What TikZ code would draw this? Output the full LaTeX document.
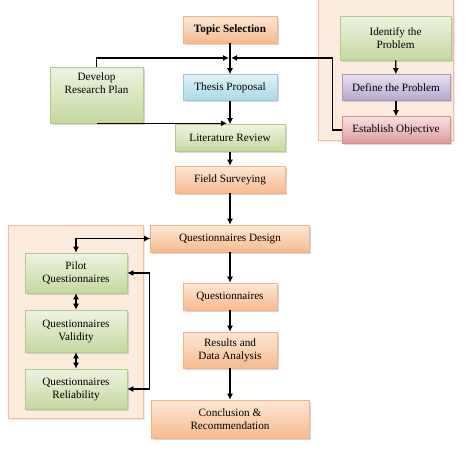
\documentclass[tikz,border=0pt]{standalone}
\usepackage{fontspec}
\setmainfont{Liberation Serif}
\usetikzlibrary{shadows, arrows.meta}

\definecolor{peachtop}{HTML}{FDE8D8}
\definecolor{peachbot}{HTML}{F7BA8C}
\definecolor{peachline}{HTML}{F4B183}
\definecolor{sagetop}{HTML}{EEF3E2}
\definecolor{sagebot}{HTML}{C5D8A0}
\definecolor{sageline}{HTML}{B5CB8C}
\definecolor{skytop}{HTML}{E2F2F7}
\definecolor{skybot}{HTML}{A9D8E6}
\definecolor{skyline}{HTML}{93CDDD}
\definecolor{lilactop}{HTML}{E8E2F0}
\definecolor{lilacbot}{HTML}{B7A6CC}
\definecolor{lilacline}{HTML}{A896C0}
\definecolor{rosetop}{HTML}{F6E0E0}
\definecolor{rosebot}{HTML}{DE9C9A}
\definecolor{roseline}{HTML}{D58E8C}
\definecolor{panelfill}{HTML}{FDEBDD}
\definecolor{panelline}{HTML}{F6BE98}

\begin{document}
\begin{tikzpicture}[x=1pt, y=-1pt, >={Latex[length=6pt, width=6pt]}, line width=1.1pt,
  font=\fontsize{11.2}{13}\selectfont,
  box/.style={draw=#1line, line width=0.6pt, top color=#1top, bottom color=#1bot,
    align=center, inner sep=2pt, minimum height=27pt,
    drop shadow={shadow xshift=1.8pt, shadow yshift=-1.8pt, fill=black!30}},
  panel/.style={draw=panelline, line width=0.8pt, fill=panelfill,
    drop shadow={shadow xshift=2pt, shadow yshift=-2pt, fill=black!15}}]
  \useasboundingbox (0,0) rectangle (474,461);
  % panels
  \draw[panel] (318,-10) rectangle (453,140);
  \draw[panel] (8,225) rectangle (143,418);
  % main column
  \node[box=peach, minimum width=94pt] (topic) at (230,29.5) {\bfseries Topic Selection};
  \node[box=sky, minimum width=94pt, minimum height=26pt] (thesis) at (230,87.5) {Thesis Proposal};
  \node[box=sage, minimum width=110pt] (litrev) at (230,138) {Literature Review};
  \node[box=peach, minimum width=110pt] (field) at (230,179.5) {Field Surveying};
  \node[box=peach, minimum width=159pt] (qdesign) at (230,238.5) {Questionnaires Design};
  \node[box=peach, minimum width=94pt] (quest) at (230,296.5) {Questionnaires};
  \node[box=peach, minimum width=94pt, minimum height=36pt] (results) at (230,350) {Results and\\Data Analysis};
  \node[box=peach, minimum width=158pt, minimum height=38pt] (concl) at (230,419) {Conclusion \&\\Recommendation};
  % research plan
  \node[box=sage, minimum width=93pt, minimum height=56pt] (plan) at (96.5,95) {Develop\\Research Plan\\[10pt]\mbox{}};
  % problem panel
  \node[box=sage, minimum width=111pt, minimum height=44pt] (identify) at (395.5,38) {Identify the\\Problem};
  \node[box=lilac, minimum width=108pt, minimum height=26pt] (define) at (396,87.5) {Define the Problem};
  \node[box=rose, minimum width=108pt] (establish) at (396,130) {Establish Objective};
  % questionnaire panel
  \node[box=sage, minimum width=102pt, minimum height=40pt] (pilot) at (76,273) {Pilot\\Questionnaires};
  \node[box=sage, minimum width=102pt, minimum height=42pt] (validity) at (76,331) {Questionnaires\\Validity};
  \node[box=sage, minimum width=102pt, minimum height=40pt] (reliab) at (76,389) {Questionnaires\\Reliability};
  % connectors
  \coordinate (join) at (230,58);
  \draw[->] (topic) -- (thesis);
  \draw[->] (plan.north) |- ([xshift=-1pt]join);
  \draw[->] (establish.west) -- ++(-9,0) |- ([xshift=1pt]join);
  \draw[->] (thesis) -- (litrev);
  \draw[->, shorten >=3pt] (plan.south) -- (plan.south -| litrev.north);
  \draw[->] (identify) -- (define);
  \draw[->] (define) -- (establish);
  \draw[->] (litrev) -- (field);
  \draw[->] (field) -- (qdesign);
  \draw[->] (qdesign) -- (quest);
  \draw[->] (quest) -- (results);
  \draw[->] (results) -- (concl);
  \draw[<->] (pilot.north) |- (qdesign.west);
  \draw[<->] (pilot) -- (validity);
  \draw[<->] (validity) -- (reliab);
  \draw[<->] (pilot.east) -- ++(22,0) |- (reliab.east);
\end{tikzpicture}
\end{document}
